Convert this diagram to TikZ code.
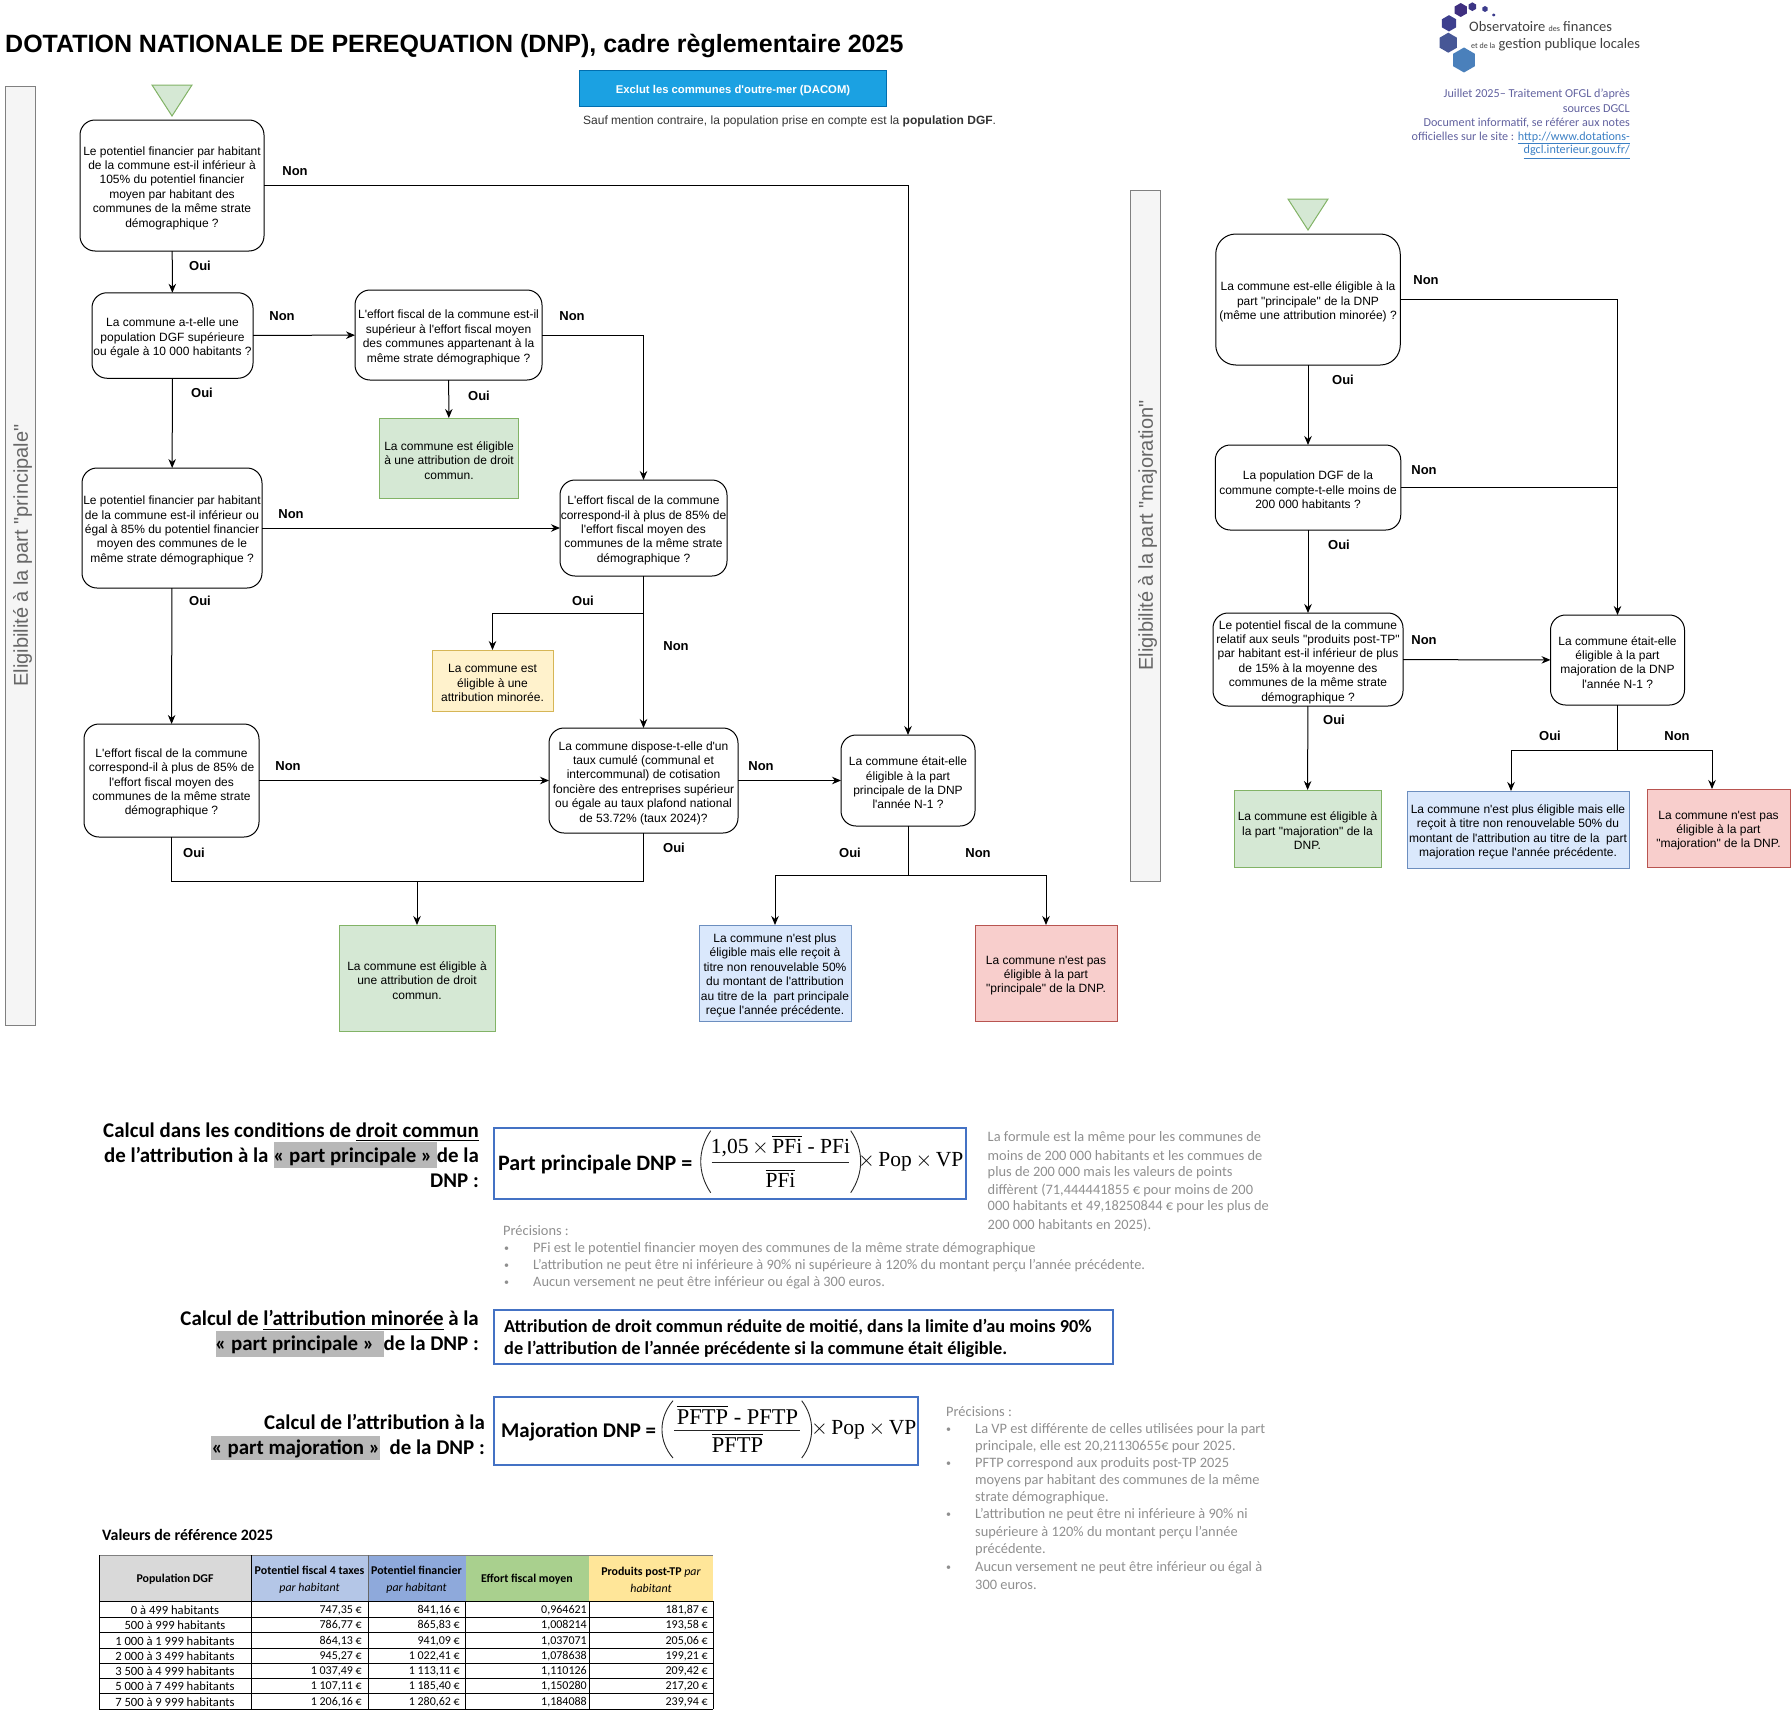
\documentclass[tikz,border=0pt]{standalone}
\usepackage{fix-cm}
\usepackage{amsmath}
\usepackage{fontspec}
\setmainfont{Liberation Sans}
\newfontfamily\drawfont{Liberation Sans}
\newfontfamily\calfont{Carlito}
\newfontfamily\formfont{Liberation Serif}
\usetikzlibrary{arrows.meta,shapes.geometric}
\definecolor{stgreen}{HTML}{82B366}
\definecolor{figreen}{HTML}{D5E8D4}
\definecolor{styellow}{HTML}{D6B656}
\definecolor{fiyellow}{HTML}{FFF2CC}
\definecolor{stblue}{HTML}{6C8EBF}
\definecolor{fiblue}{HTML}{DAE8FC}
\definecolor{stred}{HTML}{B85450}
\definecolor{fired}{HTML}{F8CECC}
\definecolor{frameblue}{HTML}{4472C4}
\definecolor{dacomst}{HTML}{006EAF}
\definecolor{dacomfi}{HTML}{1BA1E2}
\definecolor{notegray}{HTML}{8F8F8F}
\definecolor{credit}{HTML}{62629F}
\definecolor{linkblue}{HTML}{3B7FC4}
\definecolor{hdgray}{HTML}{D9D9D9}
\definecolor{hdblue}{HTML}{B4C6E7}
\definecolor{hdblueb}{HTML}{8EA9DB}
\definecolor{hdgreen}{HTML}{A9D08E}
\definecolor{hdyellow}{HTML}{FFE699}
\newcommand{\ff}[1]{\mbox{\formfont #1}}
\newcommand{\st}{\rule{0pt}{13.5pt}}
\tikzset{
  base/.style={inner sep=0pt, outer sep=0pt, align=center, font=\drawfont\fontsize{12}{14.4}\selectfont},
  qbox/.style={base, draw=black, line width=1pt, rounded corners=15pt},
  greenbox/.style={base, draw=stgreen, fill=figreen, line width=.9pt},
  yellowbox/.style={base, draw=styellow, fill=fiyellow, line width=.9pt},
  bluebox/.style={base, draw=stblue, fill=fiblue, line width=.9pt},
  redbox/.style={base, draw=stred, fill=fired, line width=.9pt},
  sidebar/.style={inner sep=0pt, outer sep=0pt, draw=gray, fill=black!4, line width=1pt, rotate=90,
    text=black!60, font=\drawfont\fontsize{20}{24}\selectfont},
  starttri/.style={draw=stgreen, fill=figreen, line width=1pt},
  lab/.style={inner sep=0pt, font=\drawfont\fontsize{13}{15}\bfseries\selectfont},
  arr/.style={-{Stealth[length=9pt,width=7.5pt]}, line width=1pt},
  lin/.style={line width=1pt},
  framebox/.style={draw=frameblue, line width=1.2pt, inner sep=0pt, outer sep=0pt},
  hexcell/.style={regular polygon, regular polygon sides=6, regular polygon rotate=30, inner sep=0pt, outer sep=0pt},
  calc/.style={inner sep=0pt, align=right, anchor=east, font=\calfont\fontsize{20.9}{25}\bfseries\selectfont},
  formtext/.style={anchor=west, inner sep=0pt, font=\calfont\fontsize{20.9}{24}\bfseries\selectfont},
  formfrac/.style={inner sep=0pt, font=\formfont\fontsize{21.5}{24}\selectfont},
  formline/.style={line width=.9pt, black!85},
  note/.style={inner sep=0pt, anchor=west, text=notegray, font=\calfont\fontsize{14.4}{17}\selectfont},
  notedot/.style={inner sep=0pt, anchor=west, text=notegray, font=\calfont\fontsize{10}{12}\selectfont},
  cred/.style={inner sep=0pt, anchor=east, text=credit, font=\calfont\fontsize{12.15}{14.5}\selectfont},
  cell/.style={inner sep=0pt, font=\calfont\fontsize{12}{13}\selectfont},
  head/.style={inner sep=0pt, align=center, font=\calfont\fontsize{11.9}{17}\selectfont},
}
\begin{document}
\begin{tikzpicture}[x=1pt,y=-1pt]
  \useasboundingbox (0,0) rectangle (1791,1710);

  % header
  \node[anchor=west, inner sep=0pt, font=\drawfont\fontsize{25}{30}\bfseries\selectfont] (title) at (5,46)
    {DOTATION NATIONALE DE PEREQUATION (DNP), cadre règlementaire 2025};
  \node[base, draw=dacomst, fill=dacomfi, text=white, minimum width=307pt, minimum height=36pt,
    font=\drawfont\fontsize{11.3}{14}\bfseries\selectfont] (dacom) at (733,88) {\st Exclut les communes d'outre-mer (DACOM)};
  \node[anchor=west, inner sep=0pt, text=black!80, font=\drawfont\fontsize{12}{14}\selectfont] (sauf) at (583,121)
    {Sauf mention contraire, la population prise en compte est la \textbf{population DGF}.};

  % logo
  \foreach \n/\px/\py/\sz/\col in {a/1460.7/10/14/3F2F80, b/1472.3/6.7/8.7/3C3585, c/1485/9/6/3C3C8C, d/1493.7/15/3/3C3C8C,
    e/1449/23.3/16.3/3D3F8E, f/1448.3/42.7/20/475796, g/1464/60/25/4A80BB} {
    \definecolor{hexcol}{HTML}{\col}
    \node[hexcell, fill=hexcol, minimum size=\sz pt] (hex\n) at (\px,\py) {};
  }
  \node[anchor=west, inner sep=0pt, text=black!75, font=\calfont\fontsize{14.5}{18}\selectfont] (ofgla) at (1469,27)
    {Observatoire {\fontsize{8}{9}\selectfont des} finances};
  \node[anchor=west, inner sep=0pt, text=black!75, font=\calfont\fontsize{14.5}{18}\selectfont] (ofglb) at (1471,44.5)
    {{\fontsize{8}{9}\selectfont et de la} gestion publique locales};
  \node[cred] (cra) at (1630,94) {Juillet 2025– Traitement OFGL d’après};
  \node[cred] (crb) at (1630,108.5) {sources DGCL};
  \node[cred] (crc) at (1630,123) {Document informatif, se référer aux notes};
  \node[cred] (crd) at (1630,138) {officielles sur le site : \textcolor{linkblue}{\underline{http://www.dotations-}}};
  \node[cred] (cre) at (1630,152) {\textcolor{linkblue}{\underline{dgcl.interieur.gouv.fr/}}};

  % part principale
  \node[sidebar, minimum width=939pt, minimum height=30pt] (sidea) at (20,555.5) {\rule{0pt}{20pt}Eligibilité à la part "principale"};
  \draw[starttri] (152,85) -- (192,85) -- (172,116) -- cycle;

  \node[qbox, minimum width=184pt, minimum height=131pt] (q1) at (172,185.5)
    {\st Le potentiel financier par habitant\\de la commune est-il inférieur à\\105\% du potentiel financier\\moyen par habitant des\\communes de la même strate\\démographique ?};
  \node[qbox, minimum width=161pt, minimum height=85.5pt] (q2) at (172.5,335.5)
    {\st La commune a-t-elle une\\population DGF supérieure\\ou égale à 10 000 habitants ?};
  \node[qbox, minimum width=187pt, minimum height=90pt] (q3) at (448.5,335)
    {\st L'effort fiscal de la commune est-il\\supérieur à l'effort fiscal moyen\\des communes appartenant à la\\même strate démographique ?};
  \node[greenbox, minimum width=139pt, minimum height=80pt] (g1) at (449,458)
    {\st La commune est éligible\\à une attribution de droit\\commun.};
  \node[qbox, minimum width=180pt, minimum height=120pt] (q4) at (172,528)
    {\st Le potentiel financier par habitant\\de la commune est-il inférieur ou\\égal à 85\% du potentiel financier\\moyen des communes de le\\même strate démographique ?};
  \node[qbox, minimum width=167pt, minimum height=96pt] (q5) at (643.5,528)
    {\st L'effort fiscal de la commune\\correspond-il à plus de 85\% de\\l'effort fiscal moyen des\\communes de la même strate\\démographique ?};
  \node[yellowbox, minimum width=121pt, minimum height=61pt] (y1) at (492.5,680.5)
    {\st La commune est\\éligible à une\\attribution minorée.};
  \node[qbox, minimum width=175pt, minimum height=113pt] (q6) at (171.5,780.5)
    {\st L'effort fiscal de la commune\\correspond-il à plus de 85\% de\\l'effort fiscal moyen des\\communes de la même strate\\démographique ?};
  \node[qbox, minimum width=189pt, minimum height=105pt] (q7) at (643.5,780.5)
    {\st La commune dispose-t-elle d'un\\taux cumulé (communal et\\intercommunal) de cotisation\\foncière des entreprises supérieur\\ou égale au taux plafond national\\de 53.72\% (taux 2024)?};
  \node[qbox, minimum width=134pt, minimum height=91pt] (q8) at (908,780.5)
    {\st La commune était-elle\\éligible à la part\\principale de la DNP\\l'année N-1 ?};
  \node[greenbox, minimum width=156pt, minimum height=106pt] (g2) at (417,978)
    {\st La commune est éligible à\\une attribution de droit\\commun.};
  \node[bluebox, minimum width=152pt, minimum height=96pt] (b1) at (775,973)
    {\st La commune n'est plus\\éligible mais elle reçoit à\\titre non renouvelable 50\%\\du montant de l'attribution\\au titre de la\ \ part principale\\reçue l'année précédente.};
  \node[redbox, minimum width=142pt, minimum height=96pt] (r1) at (1046,973)
    {\st La commune n'est pas\\éligible à la part\\"principale" de la DNP.};

  \coordinate (j1) at (417,881);
  \coordinate (j2) at (643.5,613);
  \coordinate (j3) at (908,875);

  \draw[arr] (q1) -- (q2);
  \draw[arr] (q1.east) -| (q8.north);
  \draw[arr] (q2) -- (q3);
  \draw[arr] (q3.east) -| (q5.north);
  \draw[arr] (q3) -- (g1);
  \draw[arr] (q2) -- (q4);
  \draw[arr] (q4) -- (q5);
  \draw[lin] (q5.south) -- (j2);
  \draw[arr] (j2) -| (y1.north);
  \draw[arr] (j2) -- (q7.north);
  \draw[arr] (q4) -- (q6);
  \draw[arr] (q6) -- (q7);
  \draw[arr] (q7) -- (q8);
  \draw[lin] (q6.south) |- (j1);
  \draw[lin] (q7.south) |- (j1);
  \draw[arr] (j1) -- (g2.north);
  \draw[lin] (q8.south) -- (j3);
  \draw[arr] (j3) -| (b1.north);
  \draw[arr] (j3) -| (r1.north);

  \foreach \n/\t/\px/\py in {la/Non/295/171, lb/Oui/200/266, lc/Non/282/316, ld/Non/572/316, le/Oui/202/393, lf/Oui/479/396,
    lg/Non/291/514, lh/Oui/200/601, li/Oui/583/601, lj/Non/676/646, lk/Non/288/766, ll/Non/761/766, lm/Oui/194/853,
    ln/Oui/674/848, lo/Oui/850/853, lp/Non/978/853,
    ma/Non/1426/280, mb/Oui/1343/380, mc/Non/1424/470, md/Oui/1339/545, me/Non/1424/640, mf/Oui/1334/720, mg/Oui/1550/736, mh/Non/1677/736}
    \node[lab] (\n) at (\px,\py) {\t};

  % part majoration
  \node[sidebar, minimum width=691pt, minimum height=30pt] (sideb) at (1145,535.5) {\rule{0pt}{20pt}Eligibilité à la part "majoration"};
  \draw[starttri] (1288,199) -- (1328,199) -- (1308,230) -- cycle;

  \node[qbox, minimum width=184.5pt, minimum height=131pt, rounded corners=20pt] (m1) at (1308,299.5)
    {\st La commune est-elle éligible à la\\part "principale" de la DNP\\(même une attribution minorée) ?};
  \node[qbox, minimum width=185.5pt, minimum height=85pt] (m2) at (1308,487.5)
    {\st La population DGF de la\\commune compte-t-elle moins de\\200 000 habitants ?};
  \node[qbox, minimum width=190pt, minimum height=93pt] (m3) at (1308,659.5)
    {\st Le potentiel fiscal de la commune\\relatif aux seuls "produits post-TP"\\par habitant est-il inférieur de plus\\de 15\% à la moyenne des\\communes de la même strate\\démographique ?};
  \node[qbox, minimum width=134pt, minimum height=90pt] (m4) at (1617.5,660)
    {\st La commune était-elle\\éligible à la part\\majoration de la DNP\\l'année N-1 ?};
  \node[greenbox, minimum width=147pt, minimum height=77pt] (g3) at (1307.5,828.5)
    {\st La commune est éligible à\\la part "majoration" de la\\DNP.};
  \node[bluebox, minimum width=222pt, minimum height=77pt] (b2) at (1518,829.5)
    {\st La commune n'est plus éligible mais elle\\reçoit à titre non renouvelable 50\% du\\montant de l'attribution au titre de la\ \ part\\majoration reçue l'année précédente.};
  \node[redbox, minimum width=143pt, minimum height=78pt] (r2) at (1718.5,828)
    {\st La commune n'est pas\\éligible à la part\\"majoration" de la DNP.};

  \coordinate (j4) at (1617.5,487.5);
  \coordinate (j5) at (1617.5,750);
  \draw[arr] (m1) -- (m2);
  \draw[arr] (m1.east) -| (m4.north);
  \draw[lin] (m2.east) -- (j4);
  \draw[arr] (m2) -- (m3);
  \draw[arr] (m3) -- (m4);
  \draw[arr] (m3) -- (g3);
  \draw[lin] (m4.south) -- (j5);
  \draw[arr] (j5) -| ([xshift=-7pt]b2.north);
  \draw[arr] (j5) -| ([xshift=-6.5pt]r2.north);

  % formules
  \fill[black!28] (274,1142) rectangle (437,1168);
  \node[calc] (ca) at (479,1155) {Calcul dans les conditions de \underline{droit commun}\\de l’attribution à la « part principale » de la\\DNP :};
  \node[framebox, minimum width=472pt, minimum height=71pt] (fa) at (730,1163.5) {};
  \node[formtext, font=\calfont\fontsize{22}{24}\bfseries\selectfont] (fatext) at (498,1164.5) {Part principale DNP =};
  \node[formfrac] (fanum) at (780.5,1146) {$\ff{1,05}\,{\times}\,\overline{\ff{PFi}}\ \ff{-}\ \ff{PFi}$};
  \node[formfrac] (faden) at (780.5,1178) {$\overline{\ff{PFi}}$};
  \draw[formline] (711.7,1162) -- (849,1162);
  \draw[formline] (710.7,1130.7) .. controls (697.4,1150) and (697.4,1173) .. (710.7,1192.7);
  \draw[formline] (850.7,1130.7) .. controls (864,1150) and (864,1173) .. (850.7,1192.7);
  \node[formfrac, anchor=east] (fatail) at (963.5,1162) {${\times}\,\ff{Pop}\,{\times}\,\ff{VP}$};

  \node[note] (na) at (987.5,1138) {La formule est la même pour les communes de};
  \node[note] (nb) at (987.5,1156) {moins de 200 000 habitants et les commues de};
  \node[note] (nc) at (987.5,1173) {plus de 200 000 mais les valeurs de points};
  \node[note] (nd) at (987.5,1190) {diffèrent (71,444441855 € pour moins de 200};
  \node[note] (ne) at (987.5,1207) {000 habitants et 49,18250844 € pour les plus de};
  \node[note] (nf) at (987.5,1225) {200 000 habitants en 2025).};

  \node[note] (pa) at (503,1231) {Précisions :};
  \foreach \n/\t/\py in {pb/PFi est le potentiel financier moyen des communes de la même strate démographique/1249,
    pc/L’attribution ne peut être ni inférieure à 90\% ni supérieure à 120\% du montant perçu l’année précédente./1266,
    pd/Aucun versement ne peut être inférieur ou égal à 300 euros./1283} {
    \node[note] (\n) at (533,\py) {\t};
    \node[notedot] (\n dot) at (504,\py) {•};
  }

  \fill[black!28] (216,1331) rectangle (384,1357);
  \node[calc] (cb) at (479,1332.5) {Calcul de \underline{l’attribution minorée} à la\\« part principale »\ \ de la DNP :};
  \node[framebox, minimum width=619pt, minimum height=54pt] (fb) at (803.5,1337) {};
  \node[anchor=west, inner sep=0pt, align=left, font=\calfont\fontsize{18.3}{22}\bfseries\selectfont] (fbtext) at (504,1338)
    {Attribution de droit commun réduite de moitié, dans la limite d’au moins 90\%\\de l’attribution de l’année précédente si la commune était éligible.};

  \fill[black!28] (211,1436) rectangle (380,1460);
  \node[calc] (cc) at (485,1436.5) {Calcul de l’attribution à la\\« part majoration »\ \ de la DNP :};
  \node[framebox, minimum width=424pt, minimum height=68pt] (fc) at (706,1431) {};
  \node[formtext] (fctext) at (501,1432) {Majoration DNP =};
  \node[formfrac, font=\formfont\fontsize{22.5}{26}\selectfont] (fcnum) at (737.5,1415) {$\overline{\ff{PFTP}}\ \ff{-}\ \ff{PFTP}$};
  \node[formfrac, font=\formfont\fontsize{22.5}{26}\selectfont] (fcden) at (737.5,1443) {$\overline{\ff{PFTP}}$};
  \draw[formline] (674,1430) -- (800,1430);
  \draw[formline] (673,1400.7) .. controls (658.3,1418) and (658.3,1441) .. (673,1458);
  \draw[formline] (801.7,1400.7) .. controls (815,1418) and (815,1441) .. (801.7,1458);
  \node[formfrac, anchor=east] (fctail) at (916.5,1430) {${\times}\,\ff{Pop}\,{\times}\,\ff{VP}$};

  \node[note] (qa) at (946,1412) {Précisions :};
  \foreach \n/\t/\py in {qb/La VP est différente de celles utilisées pour la part/1430, qc/principale{,} elle est 20{,}21130655€ pour 2025./1447,
    qd/PFTP correspond aux produits post-TP 2025/1464, qe/moyens par habitant des communes de la même/1481, qf/strate démographique./1498,
    qg/L’attribution ne peut être ni inférieure à 90\% ni/1515, qh/supérieure à 120\% du montant perçu l’année/1533, qi/précédente./1550,
    qj/Aucun versement ne peut être inférieur ou égal à/1568, qk/300 euros./1585}
    \node[note] (\n) at (975,\py) {\t};
  \foreach \n/\py in {qb/1430, qd/1464, qg/1515, qj/1568}
    \node[notedot] (\n dot) at (946,\py) {•};

  % table
  \node[anchor=west, inner sep=0pt, font=\calfont\fontsize{15.9}{18}\bfseries\selectfont] (ttitle) at (102,1535) {Valeurs de référence 2025};
  \fill[hdgray] (99,1555) rectangle (251,1601);
  \fill[hdblue] (251,1555) rectangle (368,1601);
  \fill[hdblueb] (368,1555) rectangle (465.5,1601);
  \fill[hdgreen] (465.5,1555) rectangle (589,1601);
  \fill[hdyellow] (589,1555) rectangle (713,1601);
  \node[head] (ha) at (175,1579.5) {\textbf{Population DGF}};
  \node[head] (hb) at (309.5,1579.5) {\textbf{Potentiel fiscal 4 taxes}\\\textit{par habitant}};
  \node[head] (hc) at (416.5,1579.5) {\textbf{Potentiel financier}\\\textit{par habitant}};
  \node[head] (hd) at (527,1579.5) {\textbf{Effort fiscal moyen}};
  \node[head] (he) at (651,1579.5) {\textbf{Produits post-TP} \textit{par}\\\textit{habitant}};

  \foreach \yc/\ttl/\va/\vb/\vc/\vd [count=\i] in {
    1610/{0 à 499 habitants}/{747,35 €}/{841,16 €}/{0,964621}/{181,87 €},
    1625.5/{500 à 999 habitants}/{786,77 €}/{865,83 €}/{1,008214}/{193,58 €},
    1641/{1 000 à 1 999 habitants}/{864,13 €}/{941,09 €}/{1,037071}/{205,06 €},
    1656.5/{2 000 à 3 499 habitants}/{945,27 €}/{1 022,41 €}/{1,078638}/{199,21 €},
    1671.5/{3 500 à 4 999 habitants}/{1 037,49 €}/{1 113,11 €}/{1,110126}/{209,42 €},
    1686.5/{5 000 à 7 499 habitants}/{1 107,11 €}/{1 185,40 €}/{1,150280}/{217,20 €},
    1702/{7 500 à 9 999 habitants}/{1 206,16 €}/{1 280,62 €}/{1,184088}/{239,94 €}} {
    \node[cell, font=\calfont\fontsize{12.6}{13}\selectfont] (rt\i) at (175,\yc) {\ttl};
    \node[cell, anchor=east] (ra\i) at (362,\yc) {\va};
    \node[cell, anchor=east] (rb\i) at (460,\yc) {\vb};
    \node[cell, anchor=east] (rc\i) at (587,\yc) {\vc};
    \node[cell, anchor=east] (rd\i) at (708,\yc) {\vd};
  }
  \foreach \ln in {1601,1617,1632,1648,1663,1678,1693,1709}
    \draw[black, line width=1pt] (99,\ln) -- (713,\ln);
  \draw[gray, line width=1pt] (99,1555) -- (713,1555);
  \foreach \ln in {99,251,465.5,589,713}
    \draw[black, line width=1pt] (\ln,1601) -- (\ln,1709);
  \draw[black, line width=1pt] (368,1601) -- (368,1709);
  \draw[black, line width=1pt] (99,1555) -- (99,1601);
  \draw[black, line width=1pt] (251,1555) -- (251,1601);
  \draw[black!60, line width=.6pt] (368,1555) -- (368,1601);
\end{tikzpicture}
\end{document}
